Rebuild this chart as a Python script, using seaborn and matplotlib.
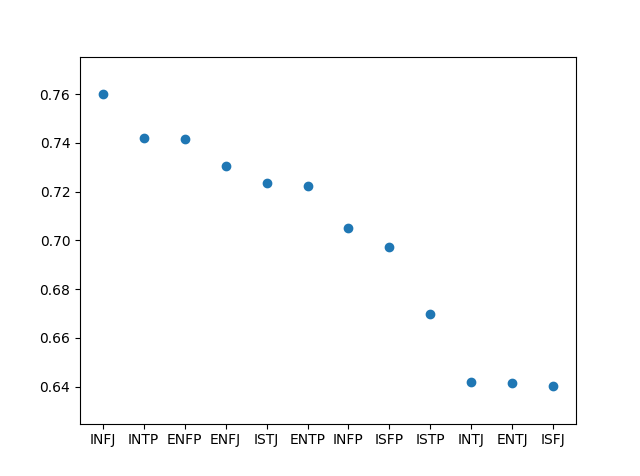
import matplotlib
matplotlib.use("Agg")
import matplotlib.pyplot as plt
import seaborn as sns
import pandas as pd

tipos = ['INFJ', 'INTP', 'ENFP', 'ENFJ', 'ISTJ', 'ENTP',
         'INFP', 'ISFP', 'ISTP', 'INTJ', 'ENTJ', 'ISFJ']
valores = [0.7602, 0.7421, 0.7416, 0.7305, 0.7236, 0.7223,
           0.7052, 0.6973, 0.6699, 0.6420, 0.6416, 0.6401]

df = pd.DataFrame({'tipo': tipos, 'valor': valores})

fig, ax = plt.subplots(figsize=(6.4, 4.76), dpi=100)
sns.scatterplot(data=df, x='tipo', y='valor', ax=ax, color='#1f77b4',
                s=36, linewidth=1, edgecolor='#1f77b4')

ax.set_xlim(-0.55, len(tipos) - 1 + 0.55)
ax.set_ylim(0.6248, 0.7752)
ax.set_xlabel('')
ax.set_ylabel('')

fig.savefig('out.png', dpi=100)
